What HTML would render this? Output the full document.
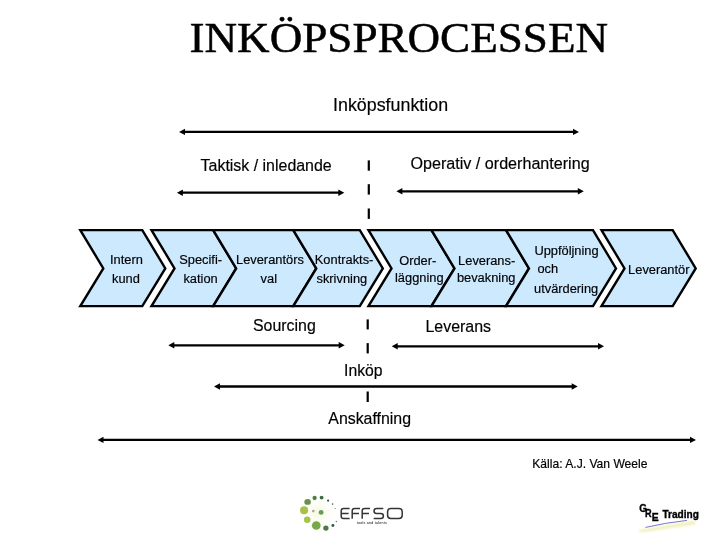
<!DOCTYPE html>
<html><head><meta charset="utf-8"><style>
html,body{margin:0;padding:0;background:#fff;}
body{width:720px;height:540px;overflow:hidden;position:relative;}
svg{position:absolute;left:0;top:0;will-change:transform;}
text{font-family:"Liberation Sans",sans-serif;fill:#000;}
.title{font-family:"Liberation Serif",serif;}
</style></head><body>
<svg width="720" height="540" viewBox="0 0 720 540">
<polygon points="80.3,230.1 142.3,230.1 165.3,268.4 142.3,306.1 80.3,306.1 103.3,268.4" fill="#cce9fe" stroke="#000" stroke-width="2.4" stroke-linejoin="miter"/>
<polygon points="151.5,230.1 213.2,230.1 236.2,268.4 213.2,306.1 151.5,306.1 174.5,268.4" fill="#cce9fe" stroke="#000" stroke-width="2.4" stroke-linejoin="miter"/>
<polygon points="213.2,230.1 293.3,230.1 316.3,268.4 293.3,306.1 213.2,306.1 236.2,268.4" fill="#cce9fe" stroke="#000" stroke-width="2.4" stroke-linejoin="miter"/>
<polygon points="293.3,230.1 359.8,230.1 382.8,268.4 359.8,306.1 293.3,306.1 316.3,268.4" fill="#cce9fe" stroke="#000" stroke-width="2.4" stroke-linejoin="miter"/>
<polygon points="368.5,230.1 431.5,230.1 454.5,268.4 431.5,306.1 368.5,306.1 391.5,268.4" fill="#cce9fe" stroke="#000" stroke-width="2.4" stroke-linejoin="miter"/>
<polygon points="431.5,230.1 506.0,230.1 529.0,268.4 506.0,306.1 431.5,306.1 454.5,268.4" fill="#cce9fe" stroke="#000" stroke-width="2.4" stroke-linejoin="miter"/>
<polygon points="506.0,230.1 593.0,230.1 616.0,268.4 593.0,306.1 506.0,306.1 529.0,268.4" fill="#cce9fe" stroke="#000" stroke-width="2.4" stroke-linejoin="miter"/>
<polygon points="601.5,230.1 672.7,230.1 695.7,268.4 672.7,306.1 601.5,306.1 624.5,268.4" fill="#cce9fe" stroke="#000" stroke-width="2.4" stroke-linejoin="miter"/>
<line x1="184.0" y1="131.9" x2="574.0" y2="131.9" stroke="#000" stroke-width="2.3"/><polygon points="579.0,131.9 573.0,128.7 573.0,135.1" fill="#000"/><polygon points="179.0,131.9 185.0,128.7 185.0,135.1" fill="#000"/>
<line x1="181.9" y1="192.7" x2="339.3" y2="192.7" stroke="#000" stroke-width="2.3"/><polygon points="344.3,192.7 338.3,189.5 338.3,195.9" fill="#000"/><polygon points="176.9,192.7 182.9,189.5 182.9,195.9" fill="#000"/>
<line x1="401.4" y1="191.3" x2="578.8" y2="191.3" stroke="#000" stroke-width="2.3"/><polygon points="583.8,191.3 577.8,188.1 577.8,194.5" fill="#000"/><polygon points="396.4,191.3 402.4,188.1 402.4,194.5" fill="#000"/>
<line x1="173.3" y1="345.3" x2="339.7" y2="345.3" stroke="#000" stroke-width="2.3"/><polygon points="344.7,345.3 338.7,342.1 338.7,348.5" fill="#000"/><polygon points="168.3,345.3 174.3,342.1 174.3,348.5" fill="#000"/>
<line x1="396.7" y1="346.3" x2="599.0" y2="346.3" stroke="#000" stroke-width="2.3"/><polygon points="604.0,346.3 598.0,343.1 598.0,349.5" fill="#000"/><polygon points="391.7,346.3 397.7,343.1 397.7,349.5" fill="#000"/>
<line x1="219.0" y1="386.5" x2="572.7" y2="386.5" stroke="#000" stroke-width="2.3"/><polygon points="577.7,386.5 571.7,383.3 571.7,389.7" fill="#000"/><polygon points="214.0,386.5 220.0,383.3 220.0,389.7" fill="#000"/>
<line x1="102.5" y1="439.9" x2="691.0" y2="439.9" stroke="#000" stroke-width="2.3"/><polygon points="696.0,439.9 690.0,436.7 690.0,443.1" fill="#000"/><polygon points="97.5,439.9 103.5,436.7 103.5,443.1" fill="#000"/>
<line x1="368.8" y1="160.4" x2="368.8" y2="170.7" stroke="#000" stroke-width="2.2"/>
<line x1="368.8" y1="184.2" x2="368.8" y2="194.6" stroke="#000" stroke-width="2.2"/>
<line x1="368.8" y1="208.5" x2="368.8" y2="218.9" stroke="#000" stroke-width="2.2"/>
<line x1="367.7" y1="319.4" x2="367.7" y2="329.4" stroke="#000" stroke-width="2.2"/>
<line x1="367.7" y1="343.1" x2="367.7" y2="353.4" stroke="#000" stroke-width="2.2"/>
<line x1="367.7" y1="391.5" x2="367.7" y2="402.0" stroke="#000" stroke-width="2.2"/>
<g fill="#0a0a12" stroke="#0a0a12" stroke-width="0.18"><text x="333.0" y="111.3" font-size="17.85">Inköpsfunktion</text>
<text x="200.6" y="171.3" font-size="15.95">Taktisk / inledande</text>
<text x="410.5" y="169.0" font-size="16.12">Operativ / orderhantering</text>
<text x="253.0" y="330.5" font-size="15.92">Sourcing</text>
<text x="425.5" y="331.7" font-size="15.95">Leverans</text>
<text x="344.0" y="375.9" font-size="15.75">Inköp</text>
<text x="328.3" y="424.3" font-size="15.90">Anskaffning</text>
<text x="532.3" y="467.7" font-size="12.10">Källa: A.J. Van Weele</text>
<text x="110.0" y="264.4" font-size="12.85">Intern</text>
<text x="112.0" y="282.5" font-size="12.85">kund</text>
<text x="179.2" y="264.1" font-size="12.85">Specifi-</text>
<text x="183.4" y="282.5" font-size="12.85">kation</text>
<text x="236.0" y="264.3" font-size="12.85">Leverantörs</text>
<text x="260.6" y="282.7" font-size="12.85">val</text>
<text x="314.8" y="263.6" font-size="12.85">Kontrakts-</text>
<text x="316.5" y="282.5" font-size="12.85">skrivning</text>
<text x="399.2" y="264.5" font-size="12.85">Order-</text>
<text x="395.0" y="282.2" font-size="12.85">läggning</text>
<text x="458.1" y="264.5" font-size="12.85">Leverans-</text>
<text x="456.9" y="282.2" font-size="12.85">bevakning</text>
<text x="534.4" y="254.7" font-size="12.85">Uppföljning</text>
<text x="537.4" y="273.3" font-size="12.85">och</text>
<text x="534.0" y="292.5" font-size="12.85">utvärdering</text>
<text x="628.1" y="273.6" font-size="12.85">Leverantör</text></g>
<text class="title" x="189.5" y="52.2" font-size="41.8" textLength="418.5" lengthAdjust="spacingAndGlyphs" stroke="#000" stroke-width="0.5">INKÖPSPROCESSEN</text>
<g id="effso">
 <defs>
  <radialGradient id="glow" cx="50%" cy="50%" r="50%">
   <stop offset="0" stop-color="#f4f8d8" stop-opacity="0.9"/>
   <stop offset="1" stop-color="#ffffff" stop-opacity="0"/>
  </radialGradient>
 <filter id="db" x="-10%" y="-10%" width="120%" height="120%"><feGaussianBlur stdDeviation="0.35"/></filter></defs>
 <circle cx="318" cy="513" r="20" fill="url(#glow)"/>
 <g filter="url(#db)"><circle cx="314.6" cy="498.0" r="2.13" fill="#4f7d45"/>
 <circle cx="321.6" cy="497.6" r="1.90" fill="#3c6a3e"/>
 <circle cx="328.1" cy="500.6" r="1.12" fill="#3a4a48"/>
 <circle cx="332.6" cy="504.1" r="0.78" fill="#4a5a50"/>
 <circle cx="335.2" cy="508.5" r="0.56" fill="#5a6a60"/>
 <ellipse cx="307.6" cy="501.9" rx="3.3" ry="2.9" fill="#6a9050"/>
 <circle cx="304.1" cy="510.2" r="4.03" fill="#a8c048"/>
 <circle cx="313.3" cy="511.1" r="1.34" fill="#a8a898"/>
 <circle cx="321.1" cy="512.4" r="2.46" fill="#6a9a58"/>
 <circle cx="307.2" cy="519.8" r="3.25" fill="#a6c446"/>
 <circle cx="316.3" cy="525.5" r="4.37" fill="#78a848"/>
 <circle cx="325.9" cy="528.1" r="2.69" fill="#4e7a44"/>
 <circle cx="332.9" cy="525.5" r="1.46" fill="#2f5c3e"/>
 <circle cx="336.4" cy="521.5" r="0.78" fill="#6a8070"/>
 </g>
 <g fill="none" stroke="#333535" stroke-width="1.5" stroke-linecap="butt">
  <path d="M349.6,508.5 H343.5 Q341.2,508.5 341.2,510.8 V516.2 Q341.2,518.5 343.5,518.5 H349.6 M341.2,513.5 H348.6"/>
  <path d="M360,508.5 H354.5 Q352.2,508.5 352.2,510.8 V518.8 M352.2,513.5 H359"/>
  <path d="M370,508.5 H364.5 Q362.2,508.5 362.2,510.8 V518.8 M362.2,513.5 H369"/>
  <path d="M383.3,508.5 H376.6 Q374,508.5 374,511 Q374,513.5 376.6,513.5 H380.8 Q383.4,513.5 383.4,516 Q383.4,518.5 380.8,518.5 H373.7"/>
  <rect x="387.6" y="508.5" width="14.6" height="10" rx="3.2"/>
 </g>
 <text x="356.8" y="523.8" font-size="3.6" fill="#555" style="font-family:'Liberation Sans',sans-serif" textLength="30">tools and talents</text>
</g>
<g id="gre">
 <defs>
  <linearGradient id="ygl" x1="0" y1="0" x2="1" y2="0">
   <stop offset="0" stop-color="#f2f2b8" stop-opacity="0.9"/>
   <stop offset="1" stop-color="#f6f6c8" stop-opacity="0.5"/>
  </linearGradient>
 </defs>
 <filter id="yb" x="-20%" y="-200%" width="140%" height="500%"><feGaussianBlur stdDeviation="1.3"/></filter><path d="M639,530 L695,520.5 L695,524.5 L640,532.5 Z" fill="#eeeeb0" opacity="0.85" filter="url(#yb)"/>
 <path d="M645.5,527.4 Q665,522.8 687,520.4" fill="none" stroke="#7676c8" stroke-width="1"/>
 <g style="font-family:'Liberation Sans',sans-serif;font-weight:bold" fill="#000" stroke="#000" stroke-width="0.35">
  <text x="639.2" y="512.3" font-size="10" textLength="7.6" lengthAdjust="spacingAndGlyphs">G</text>
  <text x="645" y="516.6" font-size="10" textLength="6.6" lengthAdjust="spacingAndGlyphs">R</text>
  <text x="651.7" y="521" font-size="10" textLength="6.9" lengthAdjust="spacingAndGlyphs">E</text>
  <text x="662.4" y="518.2" font-size="10.2" textLength="36.4" lengthAdjust="spacingAndGlyphs">Trading</text>
 </g>
</g>

</svg>
</body></html>
